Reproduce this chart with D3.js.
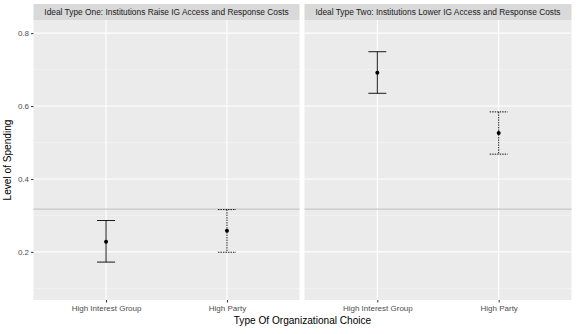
<!DOCTYPE html>
<html>
<head>
<meta charset="utf-8">
<script src="https://cdn.jsdelivr.net/npm/d3@7"></script>
<style>
  html, body { margin: 0; padding: 0; background: #ffffff; }
  svg { display: block; font-family: "Liberation Sans", Arial, sans-serif; }
</style>
</head>
<body>
<svg id="chart" width="577" height="334"></svg>
<script>
// Facet panels and x categories
const panels = [
  "Ideal Type One: Institutions Raise IG Access and Response Costs",
  "Ideal Type Two: Institutions Lower IG Access and Response Costs"
];
const categories = ["High Interest Group", "High Party"];

// Estimates per panel, in category order
const means = [[0.228, 0.258], [0.691, 0.526]];
const lowers = [[0.172, 0.199], [0.635, 0.468]];
const uppers = [[0.286, 0.316], [0.749, 0.584]];

// Reference line across both panels
const refLine = 0.317;

const yTicks = [0.2, 0.4, 0.6, 0.8];
const yMinor = [0.1, 0.3, 0.5, 0.7];
const yDomain = [0.068, 0.836];

const svg = d3.select("#chart");

const plotTop = 20, plotBottom = 300;
const panelX = [[33.5, 299.5], [304.5, 571.5]];
const stripTop = 4;

const y = d3.scaleLinear().domain(yDomain).range([plotBottom, plotTop]);

panels.forEach((title, p) => {
  const [x0, x1] = panelX[p];
  const x = d3.scalePoint().domain(categories).range([x0, x1]).padding(0.6);
  const g = svg.append("g");

  // strip
  g.append("rect").attr("x", x0).attr("y", stripTop).attr("width", x1 - x0).attr("height", plotTop - stripTop)
    .attr("fill", "#d9d9d9");
  g.append("text").attr("x", (x0 + x1) / 2).attr("y", (stripTop + plotTop) / 2).attr("dy", "0.35em")
    .attr("text-anchor", "middle").attr("font-size", 8.35).attr("fill", "#1a1a1a").text(title);

  // panel background
  g.append("rect").attr("x", x0).attr("y", plotTop).attr("width", x1 - x0).attr("height", plotBottom - plotTop)
    .attr("fill", "#ebebeb");

  // minor gridlines
  g.selectAll(".ymin").data(yMinor).enter().append("line")
    .attr("x1", x0).attr("x2", x1).attr("y1", d => y(d)).attr("y2", d => y(d))
    .attr("stroke", "#f5f5f5").attr("stroke-width", 0.6);
  // major gridlines
  g.selectAll(".ymaj").data(yTicks).enter().append("line")
    .attr("x1", x0).attr("x2", x1).attr("y1", d => y(d)).attr("y2", d => y(d))
    .attr("stroke", "#ffffff").attr("stroke-width", 1.1);
  g.selectAll(".xmaj").data(categories).enter().append("line")
    .attr("x1", d => x(d)).attr("x2", d => x(d)).attr("y1", plotTop).attr("y2", plotBottom)
    .attr("stroke", "#ffffff").attr("stroke-width", 1.1);

  // reference line
  g.append("line").attr("x1", x0).attr("x2", x1).attr("y1", y(refLine)).attr("y2", y(refLine))
    .attr("stroke", "#c8c8c8").attr("stroke-width", 1.2);

  // error bars
  categories.forEach((c, i) => {
    const cx = x(c);
    const dash = i === 1 ? "1.5,1" : null;
    const capW = 9;
    const eb = g.append("g").attr("stroke", "#000").attr("stroke-width", 0.9);
    eb.append("line").attr("x1", cx).attr("x2", cx).attr("y1", y(uppers[p][i])).attr("y2", y(lowers[p][i]))
      .attr("stroke-dasharray", dash);
    eb.append("line").attr("x1", cx - capW).attr("x2", cx + capW).attr("y1", y(uppers[p][i])).attr("y2", y(uppers[p][i]))
      .attr("stroke-dasharray", dash);
    eb.append("line").attr("x1", cx - capW).attr("x2", cx + capW).attr("y1", y(lowers[p][i])).attr("y2", y(lowers[p][i]))
      .attr("stroke-dasharray", dash);
    g.append("circle").attr("cx", cx).attr("cy", y(means[p][i])).attr("r", 2).attr("fill", "#000");
  });

  // x axis ticks and labels
  const xa = g.append("g").attr("transform", `translate(0,${plotBottom})`)
    .call(d3.axisBottom(x).tickSize(2.5).tickPadding(3));
  xa.select(".domain").remove();
  xa.selectAll(".tick line").attr("stroke", "#333333");
  xa.selectAll(".tick text").attr("font-size", 8).attr("fill", "#4d4d4d")
    .attr("font-family", "Liberation Sans, Arial, sans-serif");
});

// y axis on the left panel
const ya = svg.append("g").attr("transform", `translate(${panelX[0][0]},0)`)
  .call(d3.axisLeft(y).tickValues(yTicks).tickFormat(d3.format(".1f")).tickSize(2.5).tickPadding(2));
ya.select(".domain").remove();
ya.selectAll(".tick line").attr("stroke", "#333333");
ya.selectAll(".tick text").attr("font-size", 8).attr("fill", "#4d4d4d")
  .attr("font-family", "Liberation Sans, Arial, sans-serif");

// axis titles
svg.append("text").attr("x", (panelX[0][0] + panelX[1][1]) / 2).attr("y", 324)
  .attr("text-anchor", "middle").attr("font-size", 10.1).attr("fill", "#000")
  .text("Type Of Organizational Choice");
svg.append("text").attr("transform", `translate(11,${(plotTop + plotBottom) / 2}) rotate(-90)`)
  .attr("text-anchor", "middle").attr("font-size", 10.1).attr("fill", "#000")
  .text("Level of Spending");
</script>
</body>
</html>
